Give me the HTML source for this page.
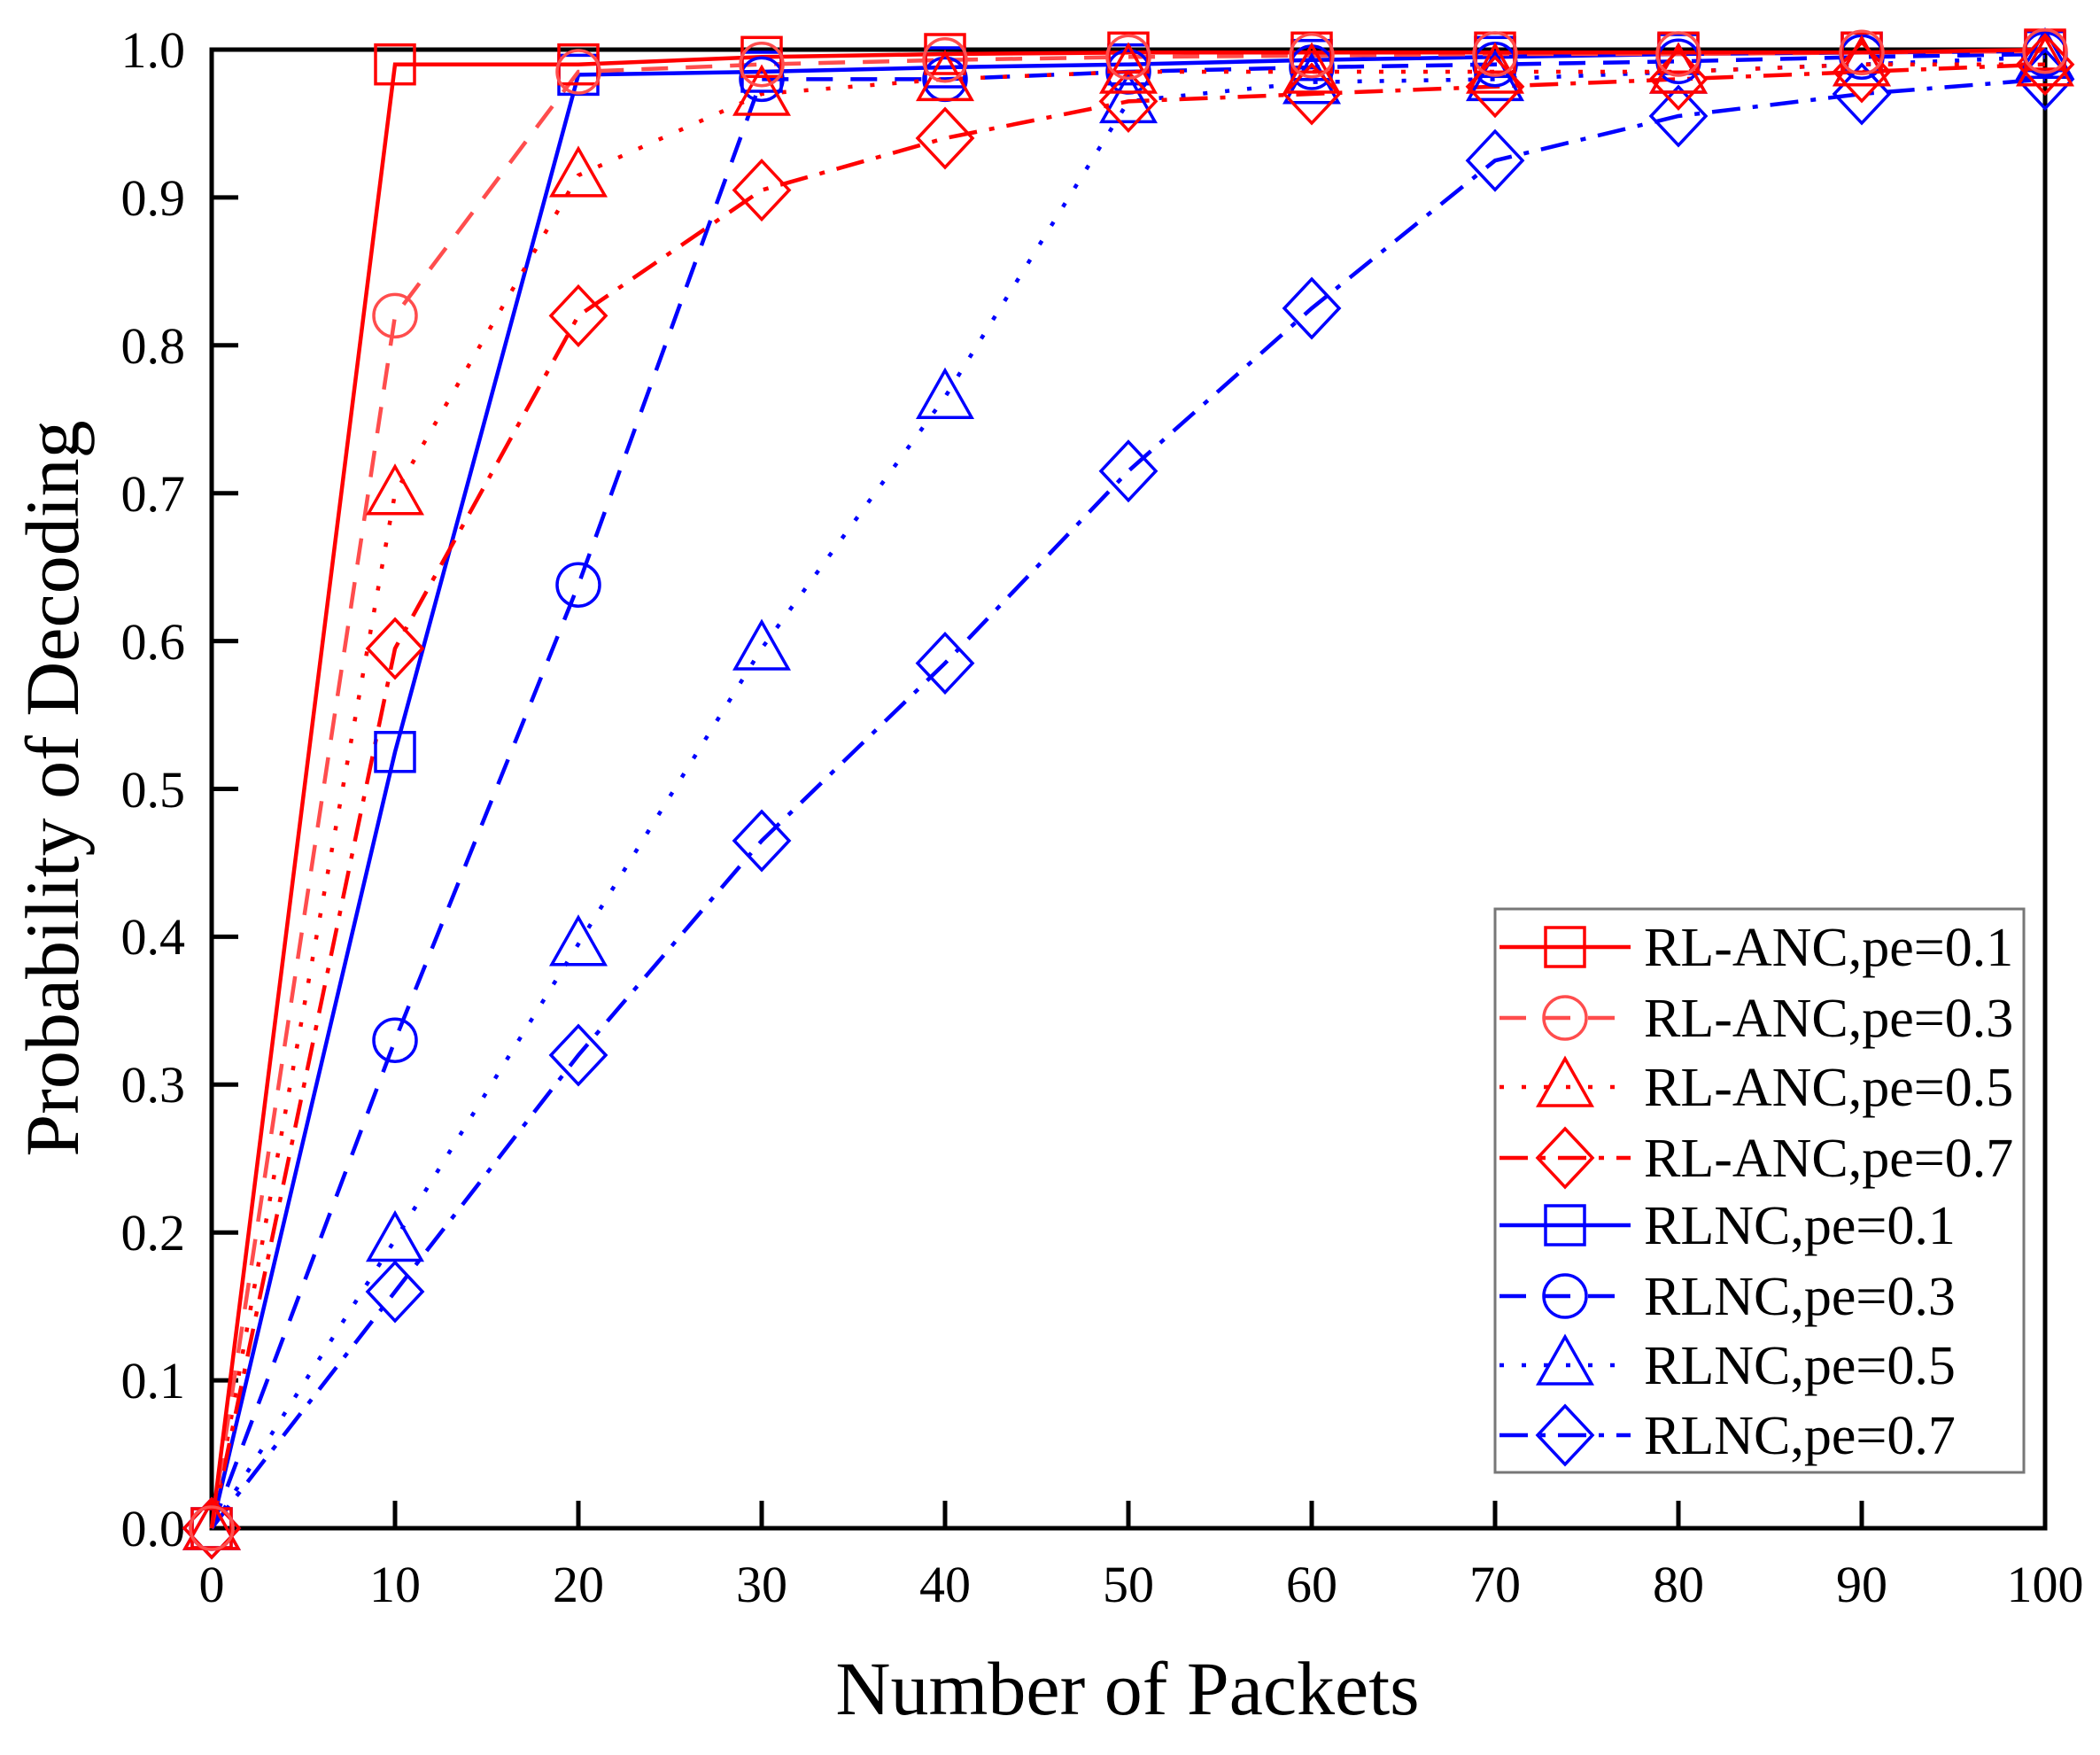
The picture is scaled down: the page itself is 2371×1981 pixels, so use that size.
<!DOCTYPE html>
<html><head><meta charset="utf-8"><style>
html,body{margin:0;padding:0;background:#fff;}
svg{display:block;}
text{font-family:"Liberation Serif",serif;fill:#000;}
</style></head><body>
<svg width="2371" height="1981" viewBox="0 0 2371 1981" xmlns="http://www.w3.org/2000/svg">
<defs>
<g id="sq"><rect x="-22" y="-22" width="44" height="44" fill="none" stroke-width="3.5"/></g>
<g id="ci"><circle r="24" fill="none" stroke-width="3.5"/></g>
<g id="tr"><polygon points="0,-30 30,23 -30,23" fill="none" stroke-width="3.5"/></g>
<g id="di"><polygon points="0,-33 31,0 0,33 -31,0" fill="none" stroke-width="3.5"/></g>
</defs>
<!-- axes frame -->
<rect x="239" y="56" width="2070" height="1669" fill="none" stroke="#000" stroke-width="5"/>
<g stroke="#000" stroke-width="5">
<line x1="239" y1="222.9" x2="269" y2="222.9"/><line x1="239" y1="389.8" x2="269" y2="389.8"/>
<line x1="239" y1="556.7" x2="269" y2="556.7"/><line x1="239" y1="723.6" x2="269" y2="723.6"/>
<line x1="239" y1="890.5" x2="269" y2="890.5"/><line x1="239" y1="1057.4" x2="269" y2="1057.4"/>
<line x1="239" y1="1224.3" x2="269" y2="1224.3"/><line x1="239" y1="1391.2" x2="269" y2="1391.2"/>
<line x1="239" y1="1558.1" x2="269" y2="1558.1"/>
<line x1="446" y1="1725" x2="446" y2="1694"/><line x1="653" y1="1725" x2="653" y2="1694"/>
<line x1="860" y1="1725" x2="860" y2="1694"/><line x1="1067" y1="1725" x2="1067" y2="1694"/>
<line x1="1274" y1="1725" x2="1274" y2="1694"/><line x1="1481" y1="1725" x2="1481" y2="1694"/>
<line x1="1688" y1="1725" x2="1688" y2="1694"/><line x1="1895" y1="1725" x2="1895" y2="1694"/>
<line x1="2102" y1="1725" x2="2102" y2="1694"/>
</g>
<!-- y labels -->
<g font-size="58" text-anchor="end">
<text x="209" y="76">1.0</text><text x="209" y="243">0.9</text><text x="209" y="410">0.8</text>
<text x="209" y="577">0.7</text><text x="209" y="744">0.6</text><text x="209" y="911">0.5</text>
<text x="209" y="1077">0.4</text><text x="209" y="1244">0.3</text><text x="209" y="1411">0.2</text>
<text x="209" y="1578">0.1</text><text x="209" y="1745">0.0</text>
</g>
<g font-size="58" text-anchor="middle">
<text x="239" y="1808">0</text><text x="446" y="1808">10</text><text x="653" y="1808">20</text>
<text x="860" y="1808">30</text><text x="1067" y="1808">40</text><text x="1274" y="1808">50</text>
<text x="1481" y="1808">60</text><text x="1688" y="1808">70</text><text x="1895" y="1808">80</text>
<text x="2102" y="1808">90</text><text x="2309" y="1808">100</text>
</g>
<text x="1273" y="1935" font-size="86" text-anchor="middle">Number of Packets</text>
<text transform="translate(88,890) rotate(-90)" font-size="86" text-anchor="middle">Probability of Decoding</text>

<!-- series -->
<g fill="none" stroke-width="4.5">
<!-- RLNC 0.7 -->
<polyline stroke="#0000ff" stroke-dasharray="32 14 6 14" points="239,1725 446,1458 653,1191 860,949 1067,748.6 1274,531.7 1481,348 1688,181.2 1895,131 2102,106 2309,89.4"/>
<!-- RLNC 0.5 -->
<polyline stroke="#0000ff" stroke-dasharray="5 20" points="239,1725 446,1399.5 653,1065.7 860,732 1067,448.2 1274,114.4 1481,92.7 1688,89.4 1895,81 2102,72.7 2309,64.3"/>
<!-- RLNC 0.3 -->
<polyline stroke="#0000ff" stroke-dasharray="30 20" points="239,1725 446,1174.2 653,660.2 860,89.4 1067,89.4 1274,81 1481,76 1688,72.7 1895,69.3 2102,64.3 2309,61"/>
<!-- RLNC 0.1 -->
<polyline stroke="#0000ff" points="239,1725 446,848.8 653,84.4 860,81 1067,76 1274,72.7 1481,67.7 1688,64.3 1895,61 2102,59.3 2309,57.7"/>
<!-- RL-ANC 0.7 -->
<polyline stroke="#ff0000" stroke-dasharray="32 14 6 14" points="239,1725 446,732 653,356.4 860,214.6 1067,156 1274,114.4 1481,106 1688,97.7 1895,89.4 2102,81 2309,72.7"/>
<!-- RL-ANC 0.5 -->
<polyline stroke="#ff0000" stroke-dasharray="5 20" points="239,1725 446,556.7 653,197.9 860,106 1067,89.4 1274,81 1481,81 1688,81 1895,81 2102,72.7 2309,72.7"/>
<!-- RL-ANC 0.3 -->
<polyline stroke="#ff4d4d" stroke-dasharray="30 20" points="239,1725 446,356.4 653,81 860,72.7 1067,67.7 1274,64.3 1481,62.7 1688,61 1895,61 2102,59.3 2309,57.7"/>
<!-- RL-ANC 0.1 -->
<polyline stroke="#ff0000" points="239,1725 446,72.7 653,72.7 860,64.3 1067,61 1274,59.3 1481,59.3 1688,59.3 1895,59.3 2102,59.3 2309,56"/>
</g>
<!-- markers -->
<g stroke="#0000ff">
<use href="#di" x="239" y="1725"/><use href="#di" x="446" y="1458"/><use href="#di" x="653" y="1191"/><use href="#di" x="860" y="949"/><use href="#di" x="1067" y="748.6"/><use href="#di" x="1274" y="531.7"/><use href="#di" x="1481" y="348"/><use href="#di" x="1688" y="181.2"/><use href="#di" x="1895" y="131"/><use href="#di" x="2102" y="106"/><use href="#di" x="2309" y="89.4"/>
<use href="#tr" x="239" y="1725"/><use href="#tr" x="446" y="1399.5"/><use href="#tr" x="653" y="1065.7"/><use href="#tr" x="860" y="732"/><use href="#tr" x="1067" y="448.2"/><use href="#tr" x="1274" y="114.4"/><use href="#tr" x="1481" y="92.7"/><use href="#tr" x="1688" y="89.4"/><use href="#tr" x="1895" y="81"/><use href="#tr" x="2102" y="72.7"/><use href="#tr" x="2309" y="64.3"/>
<use href="#ci" x="239" y="1725"/><use href="#ci" x="446" y="1174.2"/><use href="#ci" x="653" y="660.2"/><use href="#ci" x="860" y="89.4"/><use href="#ci" x="1067" y="89.4"/><use href="#ci" x="1274" y="81"/><use href="#ci" x="1481" y="76"/><use href="#ci" x="1688" y="72.7"/><use href="#ci" x="1895" y="69.3"/><use href="#ci" x="2102" y="64.3"/><use href="#ci" x="2309" y="61"/>
<use href="#sq" x="239" y="1725"/><use href="#sq" x="446" y="848.8"/><use href="#sq" x="653" y="84.4"/><use href="#sq" x="860" y="81"/><use href="#sq" x="1067" y="76"/><use href="#sq" x="1274" y="72.7"/><use href="#sq" x="1481" y="67.7"/><use href="#sq" x="1688" y="64.3"/><use href="#sq" x="1895" y="61"/><use href="#sq" x="2102" y="59.3"/><use href="#sq" x="2309" y="57.7"/>
</g>
<g stroke="#ff0000">
<use href="#di" x="239" y="1725"/><use href="#di" x="446" y="732"/><use href="#di" x="653" y="356.4"/><use href="#di" x="860" y="214.6"/><use href="#di" x="1067" y="156"/><use href="#di" x="1274" y="114.4"/><use href="#di" x="1481" y="106"/><use href="#di" x="1688" y="97.7"/><use href="#di" x="1895" y="89.4"/><use href="#di" x="2102" y="81"/><use href="#di" x="2309" y="72.7"/>
<use href="#tr" x="239" y="1725"/><use href="#tr" x="446" y="556.7"/><use href="#tr" x="653" y="197.9"/><use href="#tr" x="860" y="106"/><use href="#tr" x="1067" y="89.4"/><use href="#tr" x="1274" y="81"/><use href="#tr" x="1481" y="81"/><use href="#tr" x="1688" y="81"/><use href="#tr" x="1895" y="81"/><use href="#tr" x="2102" y="72.7"/><use href="#tr" x="2309" y="72.7"/>
<use href="#sq" x="239" y="1725"/><use href="#sq" x="446" y="72.7"/><use href="#sq" x="653" y="72.7"/><use href="#sq" x="860" y="64.3"/><use href="#sq" x="1067" y="61"/><use href="#sq" x="1274" y="59.3"/><use href="#sq" x="1481" y="59.3"/><use href="#sq" x="1688" y="59.3"/><use href="#sq" x="1895" y="59.3"/><use href="#sq" x="2102" y="59.3"/><use href="#sq" x="2309" y="56"/>
</g>
<g stroke="#ff4d4d">
<use href="#ci" x="239" y="1725"/><use href="#ci" x="446" y="356.4"/><use href="#ci" x="653" y="81"/><use href="#ci" x="860" y="72.7"/><use href="#ci" x="1067" y="67.7"/><use href="#ci" x="1274" y="64.3"/><use href="#ci" x="1481" y="62.7"/><use href="#ci" x="1688" y="61"/><use href="#ci" x="1895" y="61"/><use href="#ci" x="2102" y="59.3"/><use href="#ci" x="2309" y="57.7"/>
</g>

<!-- legend -->
<rect x="1688" y="1026" width="597" height="636" fill="#fff" stroke="#777" stroke-width="3"/>
<g fill="none" stroke-width="4.5">
<line x1="1693" y1="1069" x2="1841" y2="1069" stroke="#ff0000"/>
<line x1="1693" y1="1149" x2="1841" y2="1149" stroke="#ff4d4d" stroke-dasharray="30 20"/>
<line x1="1693" y1="1227" x2="1841" y2="1227" stroke="#ff0000" stroke-dasharray="5 20"/>
<line x1="1693" y1="1307" x2="1841" y2="1307" stroke="#ff0000" stroke-dasharray="32 14 6 14"/>
<line x1="1693" y1="1383" x2="1841" y2="1383" stroke="#0000ff"/>
<line x1="1693" y1="1463" x2="1841" y2="1463" stroke="#0000ff" stroke-dasharray="30 20"/>
<line x1="1693" y1="1541" x2="1841" y2="1541" stroke="#0000ff" stroke-dasharray="5 20"/>
<line x1="1693" y1="1620" x2="1841" y2="1620" stroke="#0000ff" stroke-dasharray="32 14 6 14"/>
</g>
<g stroke="#ff0000"><use href="#sq" x="1767" y="1069"/><use href="#tr" x="1767" y="1225"/><use href="#di" x="1767" y="1307"/></g>
<g stroke="#ff4d4d"><use href="#ci" x="1767" y="1149"/></g>
<g stroke="#0000ff"><use href="#sq" x="1767" y="1383"/><use href="#ci" x="1767" y="1463"/><use href="#tr" x="1767" y="1539"/><use href="#di" x="1767" y="1620"/></g>
<g font-size="62">
<text x="1856" y="1090">RL-ANC,pe=0.1</text>
<text x="1856" y="1170">RL-ANC,pe=0.3</text>
<text x="1856" y="1248">RL-ANC,pe=0.5</text>
<text x="1856" y="1328">RL-ANC,pe=0.7</text>
<text x="1856" y="1404">RLNC,pe=0.1</text>
<text x="1856" y="1484">RLNC,pe=0.3</text>
<text x="1856" y="1562">RLNC,pe=0.5</text>
<text x="1856" y="1641">RLNC,pe=0.7</text>
</g>
</svg>
</body></html>
